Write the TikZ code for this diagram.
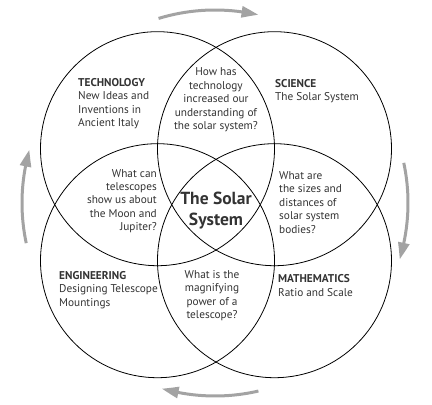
\documentclass[tikz,border=0pt]{standalone}
\usepackage{fontspec}
\setmainfont{PT Sans}
\usetikzlibrary{arrows.meta,bending}
\definecolor{txt}{HTML}{333333}
\definecolor{arrowgray}{HTML}{A3A3A3}
\begin{document}
\begin{tikzpicture}[x=1pt,y=1pt,
  ring/.style={circle,draw=black,line width=0.8pt,minimum size=234pt,inner sep=0pt},
  lbl/.style={text=txt,font=\fontsize{11.3}{13.4}\selectfont,inner sep=0pt},
  mid/.style={text=txt,font=\fontsize{17.5}{21}\selectfont\bfseries,inner sep=0pt,align=center},
  cyc/.style={draw=arrowgray,line width=3pt,-{Triangle[length=17pt,width=11pt,bend]}}]
\useasboundingbox (0,0) rectangle (432,405);
% circles
\node[ring] (tl) at (157.5,256.3) {};
\node[ring] (tr) at (274.5,256.3) {};
\node[ring] (bl) at (157.5,144.3) {};
\node[ring] (br) at (274.5,144.3) {};
% cycle arrows
\coordinate (o) at (215,202);
\draw[cyc] ([shift={(o)}]107:193) arc[start angle=107,end angle=77,radius=193pt];
\draw[cyc] ([shift={(o)}]12:193) arc[start angle=12,end angle=-17,radius=193pt];
\draw[cyc] ([shift={(o)}]-77:193) arc[start angle=-77,end angle=-106,radius=193pt];
\draw[cyc] ([shift={(o)}]192:193) arc[start angle=192,end angle=164,radius=193pt];
% texts
\node[lbl,align=left,anchor=west] (tech) at (78,301.5) {\textbf{TECHNOLOGY}\\New Ideas and\\Inventions in\\Ancient Italy};
\node[lbl,align=left,anchor=west] (sci) at (275,314) {\textbf{SCIENCE}\\The Solar System};
\node[lbl,align=center] (qtop) at (216,305) {How has\\technology\\increased our\\understanding of\\the solar system?};
\node[lbl,align=right,anchor=east] (qleft) at (157,204) {What can\hspace{8pt}\\telescopes\hspace{4pt}\\show us about\\the Moon and\hspace{2pt}\\Jupiter?\hspace{4pt}};
\node[lbl,align=left,anchor=west] (qright) at (279,202.5) {What are\\the sizes and\\distances of\\solar system\\bodies?};
\node[mid] (center) at (216,194.5) {The Solar\\System};
\node[lbl,align=left,anchor=west] (eng) at (59,115) {\textbf{ENGINEERING}\\Designing Telescope\\Mountings};
\node[lbl,align=center] (qbot) at (212,109.5) {What is the\\magnifying\\power of a\\telescope?};
\node[lbl,align=left,anchor=west] (math) at (278,119.5) {\textbf{MATHEMATICS}\\Ratio and Scale};
\end{tikzpicture}
\end{document}
